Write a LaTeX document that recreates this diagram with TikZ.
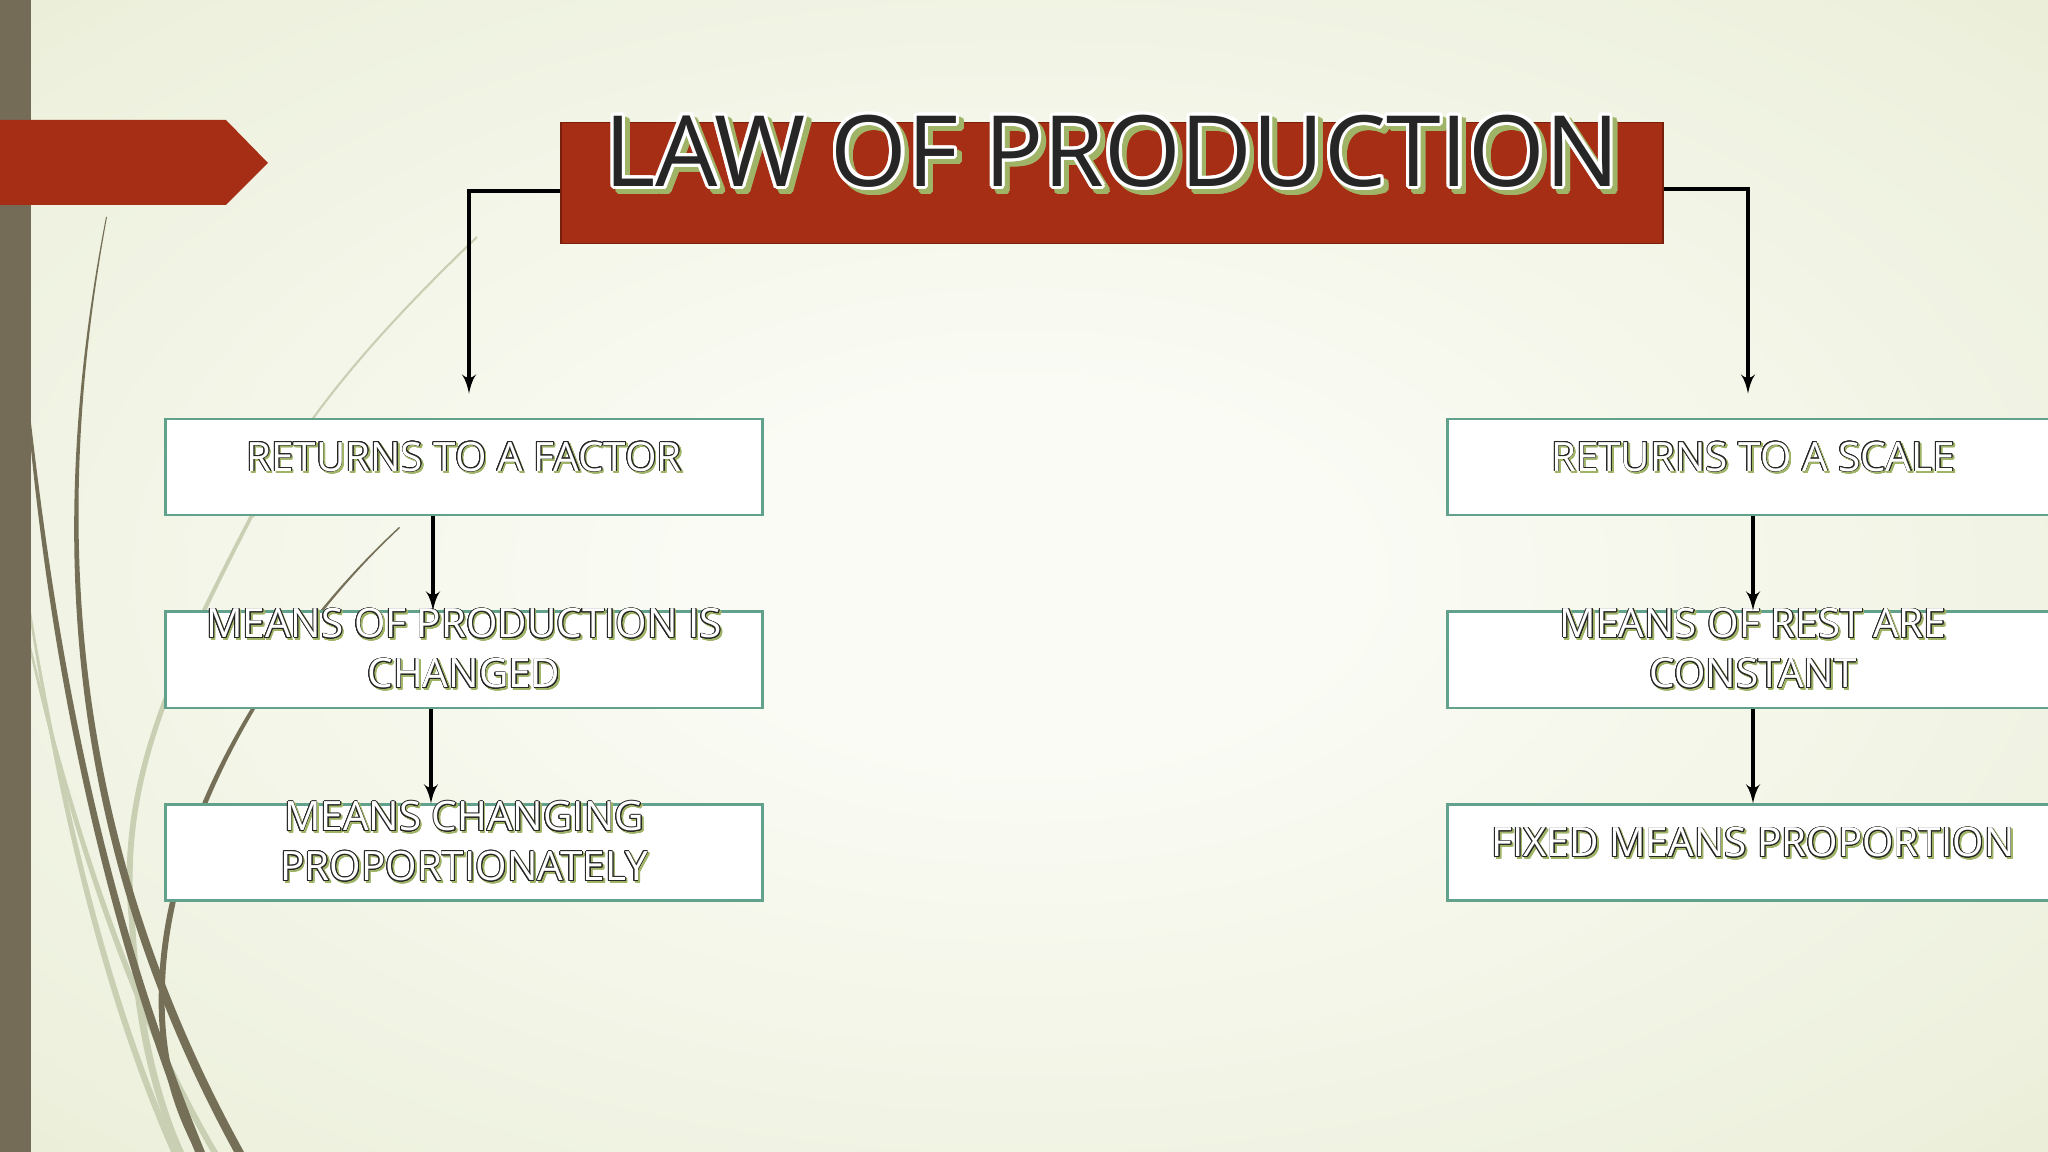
\documentclass[tikz,border=0pt]{standalone}
\usepackage{fontspec}
\setmainfont{Open Sans}
\usepackage{contour}
\usepackage{tikz}
\usetikzlibrary{arrows}
\usetikzlibrary{positioning}
\definecolor{bgin}{RGB}{250,251,244}
\definecolor{bgout}{RGB}{221,228,193}
\definecolor{mbar}{RGB}{117,108,88}
\definecolor{mred}{RGB}{166,46,20}
\definecolor{mredline}{RGB}{120,32,12}
\definecolor{mteal}{RGB}{98,162,140}
\definecolor{mwisp}{RGB}{117,111,88}
\definecolor{mwisplight}{RGB}{200,207,178}
\definecolor{mshadow}{RGB}{160,180,104}
\definecolor{mink}{RGB}{38,38,38}
\pgfdeclareradialshading{slidebg}{\pgfpoint{0bp}{0bp}}{color(0bp)=(bgin); color(8bp)=(bgin); color(60bp)=(bgout); color(75bp)=(bgout)}
\newcommand{\boxtext}[1]{{\contourlength{0.25pt}\rlap{\kern0.5pt\raisebox{-0.5pt}{\textcolor{mshadow}{\contour{mshadow}{#1}}}}\textcolor{white}{\contour{mink}{#1}}}}
\newcommand{\headtext}[1]{{\contourlength{0.9pt}\rlap{\kern1.4pt\raisebox{-1.4pt}{\textcolor{mshadow}{\contour{mshadow}{#1}}}}\textcolor{mink}{\contour{white}{#1}}}}
\tikzset{sbox/.style = {draw=mteal, line width=0.8pt, fill=white,
                        minimum width=5.97cm, minimum height=0.96cm,
                        align=center, text depth=6pt,
                        font=\fontsize{11.5}{14.2}\selectfont}}
\tikzset{sbox2/.style = {sbox, text height=15.9pt, text depth=0pt}}
\tikzset{conn/.style = {draw=black, line width=0.9pt, -latex'}}

\begin{document}
\begin{tikzpicture}[x=0.01cm, y=-0.01cm]
  \useasboundingbox (0,0) rectangle (2048,1152);
  \shade[shading=slidebg] (0,0) rectangle (2048,1152);
  % wisps
  \fill[mwisplight] (20,545) .. controls (60,800) and (110,1000) .. (178,1152) -- (171,1152) .. controls (104,1000) and (54,800) .. (20,551) -- cycle;
  \fill[mwisplight] (20,600) .. controls (75,840) and (140,1020) .. (218,1152) -- (211,1152) .. controls (134,1020) and (69,840) .. (20,606) -- cycle;
  \draw[mwisplight, line width=0.6pt] (477,237) .. controls (380,330) and (300,420) .. (253,517);
  \fill[mwisplight] (253,517) .. controls (180,660) and (120,780) .. (135,920) .. controls (140,1020) and (160,1100) .. (184,1152) -- (177,1152) .. controls (153,1100) and (132,1020) .. (129,920) .. controls (114,780) and (175,660) .. (250,515) -- cycle;
  \fill[mwisp] (107,217) .. controls (55,500) and (60,820) .. (244,1152) -- (234,1152) .. controls (52,820) and (51,500) .. (106,217) -- cycle;
  \fill[mwisp] (25,370) .. controls (45,550) and (80,850) .. (205,1152) -- (195,1152) .. controls (74,850) and (39,550) .. (25,385) -- cycle;
  \fill[mwisp] (400,528) .. controls (280,640) and (170,820) .. (165,985) .. controls (162,1060) and (180,1110) .. (204,1152) -- (196,1152) .. controls (174,1110) and (156,1060) .. (159,985) .. controls (164,820) and (276,640) .. (399,527) -- cycle;
  % bar and banner
  \fill[mbar] (0,0) rectangle (31,1152);
  \fill[mred] (0,120) -- (226,120) -- (268,163) -- (226,205) -- (0,205) -- cycle;
  % title
  \node[fill=mred, draw=mredline, line width=0.5pt, minimum width=11.01cm, minimum height=1.21cm] (title) at (1112,183) {};
  \node[font=\fontsize{28}{34}\selectfont, inner sep=0pt] (titletext) at (1112,155) {\headtext{LAW OF PRODUCTION}};
  % boxes
  \node[sbox] (lf1) at (464,467) {\boxtext{RETURNS TO A FACTOR}};
  \node[sbox2, below=0.94cm of lf1] (lf2) {\boxtext{MEANS OF PRODUCTION IS}\\\boxtext{CHANGED}};
  \node[sbox2, below=0.94cm of lf2] (lf3) {\boxtext{MEANS CHANGING}\\\boxtext{PROPORTIONATELY}};
  \node[sbox, minimum width=6.1cm] (rt1) at (1753,467) {\boxtext{RETURNS TO A SCALE}};
  \node[sbox2, minimum width=6.1cm, below=0.94cm of rt1] (rt2) {\boxtext{MEANS OF REST ARE}\\\boxtext{CONSTANT}};
  \node[sbox, minimum width=6.1cm, below=0.94cm of rt2] (rt3) {\boxtext{FIXED MEANS PROPORTION}};
  % connectors
  \draw[conn] ([yshift=-0.08cm]title.west) -| ([xshift=0.05cm,yshift=0.24cm]lf1.north);
  \draw[conn] ([yshift=-0.06cm]title.east) -| ([xshift=-0.05cm,yshift=0.24cm]rt1.north);
  \draw[conn] ([xshift=-0.31cm]lf1.south) -- ([xshift=-0.31cm]lf2.north);
  \draw[conn] ([xshift=-0.33cm]lf2.south) -- ([xshift=-0.33cm]lf3.north);
  \draw[conn] (rt1.south) -- (rt2.north);
  \draw[conn] (rt2.south) -- (rt3.north);
\end{tikzpicture}
\end{document}
